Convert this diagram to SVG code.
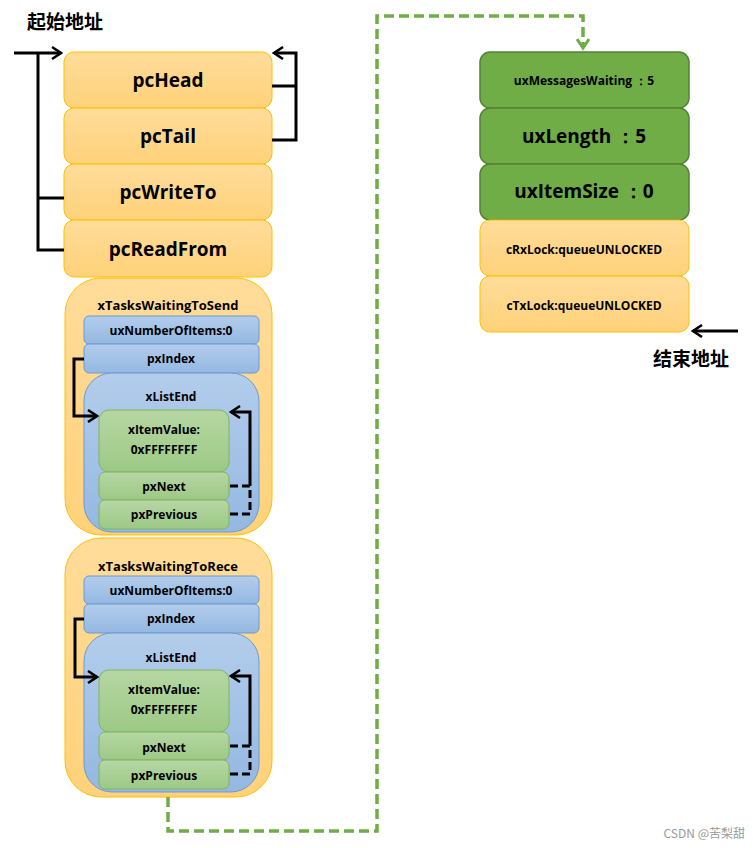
<svg xmlns="http://www.w3.org/2000/svg" width="753" height="848" viewBox="0 0 753 848">
<defs>
<linearGradient id="og" x1="0" y1="0" x2="0" y2="1"><stop offset="0" stop-color="#FFDC9A"/><stop offset="1" stop-color="#FFD27A"/></linearGradient>
<linearGradient id="bg" x1="0" y1="0" x2="0" y2="1"><stop offset="0" stop-color="#B3CDEB"/><stop offset="1" stop-color="#94B8E2"/></linearGradient>
<linearGradient id="gg" x1="0" y1="0" x2="0" y2="1"><stop offset="0" stop-color="#B6D7A4"/><stop offset="1" stop-color="#9CC985"/></linearGradient>
<marker id="ah" markerWidth="12" markerHeight="14" refX="10" refY="7" orient="auto" markerUnits="userSpaceOnUse"><path d="M1,1 L10,7 L1,13" fill="none" stroke="#000" stroke-width="2.5"/></marker>
<marker id="gah" markerWidth="14" markerHeight="14" refX="7" refY="11" orient="0" markerUnits="userSpaceOnUse"><path d="M1,2 L7,11 L13,2" fill="none" stroke="#70AD47" stroke-width="3"/></marker>
</defs>
<style>
.o{fill:url(#og);stroke:#FFC000;stroke-width:1}
.b{fill:url(#bg);stroke:#6A9AD2;stroke-width:1}
.g{fill:url(#gg);stroke:#7FB45E;stroke-width:1}
.dg{fill:#70AD47;stroke:#548235;stroke-width:1.5}
text{font-family:"Open Sans","Liberation Sans",sans-serif;font-weight:bold;fill:#000;text-anchor:middle}
.cn{font-family:"Noto Sans CJK SC",sans-serif;font-weight:bold;text-anchor:start}
.l{font-size:19px}.m{font-size:13px}.s{font-size:12px}
.ln{fill:none;stroke:#000;stroke-width:3}
.dl{fill:none;stroke:#000;stroke-width:3;stroke-dasharray:8,4}
</style>
<rect x="0" y="0" width="753" height="848" fill="#fff"/>
<text class="cn" x="27" y="29" font-size="19">起始地址</text>
<text class="cn" x="653" y="366" font-size="19">结束地址</text>
<g id="pcHead"><rect class="o" x="64" y="52" width="208" height="56" rx="10"/><text class="l" x="168" y="87">pcHead</text></g>
<g id="pcTail"><rect class="o" x="64" y="108" width="208" height="56" rx="10"/><text class="l" x="168" y="143">pcTail</text></g>
<g id="pcWriteTo"><rect class="o" x="64" y="164" width="208" height="56" rx="10"/><text class="l" x="168" y="199">pcWriteTo</text></g>
<g id="pcReadFrom"><rect class="o" x="64" y="220" width="208" height="57" rx="10"/><text class="l" x="168" y="256">pcReadFrom</text></g>
<g id="send">
<rect class="o" x="65" y="278" width="207" height="257" rx="36"/>
<text class="m" x="168" y="310">xTasksWaitingToSend</text>
<rect class="b" x="84" y="316" width="175" height="28" rx="5"/><text class="s" x="171" y="335">uxNumberOfItems:0</text>
<rect class="b" x="84" y="344" width="175" height="29" rx="5"/><text class="s" x="171" y="363">pxIndex</text>
<rect class="b" x="84" y="373" width="175" height="159" rx="28"/><text class="s" x="171" y="401">xListEnd</text>
<rect class="g" x="99" y="410" width="130" height="62" rx="10"/><text class="s" x="164" y="434">xItemValue:</text><text class="s" x="164" y="454">0xFFFFFFFF</text>
<rect class="g" x="99" y="472" width="130" height="28" rx="6"/><text class="s" x="164" y="491">pxNext</text>
<rect class="g" x="99" y="500" width="130" height="29" rx="6"/><text class="s" x="164" y="519">pxPrevious</text>
</g>
<g id="rece">
<rect class="o" x="65" y="538" width="207" height="259" rx="36"/>
<text class="m" x="168" y="571">xTasksWaitingToRece</text>
<rect class="b" x="84" y="576" width="175" height="28" rx="5"/><text class="s" x="171" y="595">uxNumberOfItems:0</text>
<rect class="b" x="84" y="604" width="175" height="29" rx="5"/><text class="s" x="171" y="623">pxIndex</text>
<rect class="b" x="84" y="633" width="175" height="159" rx="28"/><text class="s" x="171" y="662">xListEnd</text>
<rect class="g" x="99" y="670" width="130" height="62" rx="10"/><text class="s" x="164" y="694">xItemValue:</text><text class="s" x="164" y="714">0xFFFFFFFF</text>
<rect class="g" x="99" y="732" width="130" height="28" rx="6"/><text class="s" x="164" y="752">pxNext</text>
<rect class="g" x="99" y="760" width="130" height="29" rx="6"/><text class="s" x="164" y="780">pxPrevious</text>
</g>
<g id="uxMessagesWaiting"><rect class="dg" x="480" y="52" width="209" height="56" rx="10"/><text class="s" x="584" y="85">uxMessagesWaiting ：5</text></g>
<g id="uxLength"><rect class="dg" x="480" y="108" width="209" height="56" rx="10"/><text class="l" x="584" y="143">uxLength ：5</text></g>
<g id="uxItemSize"><rect class="dg" x="480" y="164" width="209" height="56" rx="10"/><text class="l" x="584" y="198">uxItemSize ：0</text></g>
<g id="cRxLock"><rect class="o" x="480" y="220" width="209" height="56" rx="10"/><text class="s" x="584" y="254">cRxLock:queueUNLOCKED</text></g>
<g id="cTxLock"><rect class="o" x="480" y="276" width="209" height="56" rx="10"/><text class="s" x="584" y="310">cTxLock:queueUNLOCKED</text></g>
<g id="connectors">
<path class="ln" d="M14,53 H61" marker-end="url(#ah)" stroke-width="3.5"/>
<path class="ln" d="M38,53 V250 H64 M38,198 H64"/>
<path class="ln" d="M272,86 H296 M272,140 H296 V53 H274" marker-end="url(#ah)"/>
<path class="ln" d="M738,331 H693" marker-end="url(#ah)"/>
<path class="ln" d="M84,359 H74 V416 H97" marker-end="url(#ah)"/>
<path class="ln" d="M250,486 V412 H231" marker-end="url(#ah)"/>
<path class="dl" d="M230,486 H250 M230,514 H250 V486"/>
<path class="ln" d="M84,619 H75 V677 H97" marker-end="url(#ah)"/>
<path class="ln" d="M250,746 V676 H231" marker-end="url(#ah)"/>
<path class="dl" d="M230,746 H250 M230,774 H250 V746"/>
<path d="M168,797 V831 H377 V16 H583 V48" fill="none" stroke="#70AD47" stroke-width="3.5" stroke-dasharray="10,5" marker-end="url(#gah)"/>
</g>
<text x="745" y="838" style="font-family:'Noto Sans CJK SC',sans-serif;font-weight:normal;font-size:12px;fill:#999;text-anchor:end">CSDN @苦梨甜</text>
</svg>
